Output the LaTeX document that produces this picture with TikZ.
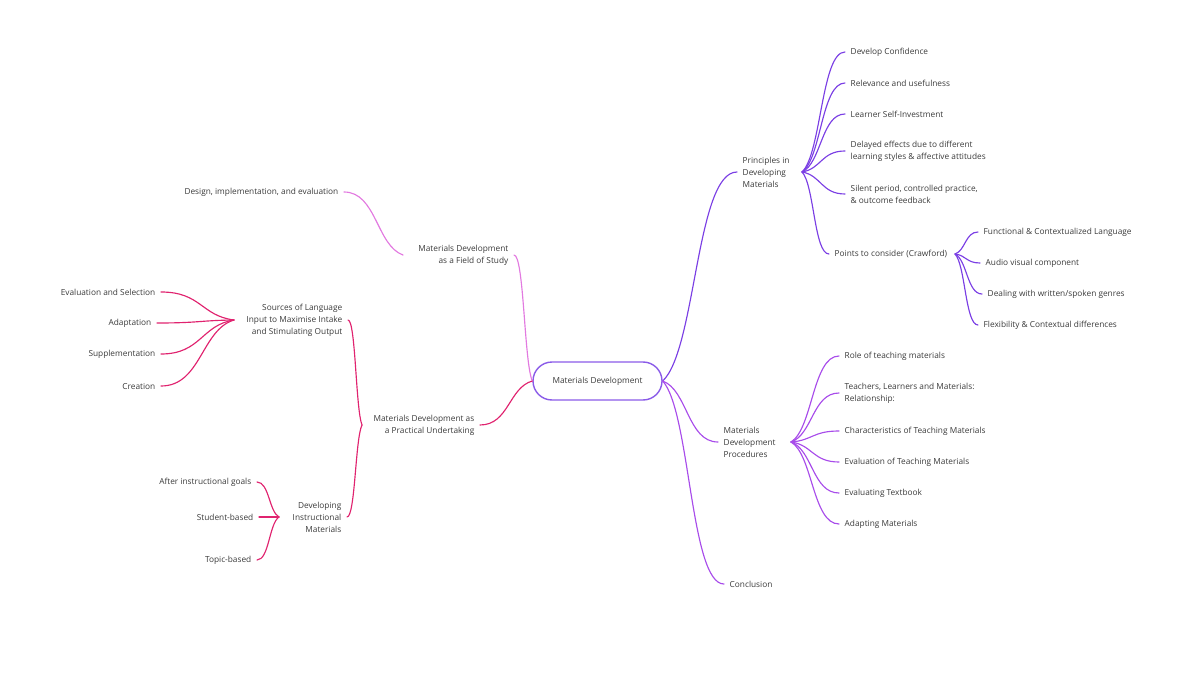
\documentclass[tikz,border=0pt]{standalone}
\usepackage{fontspec}
\setmainfont{Open Sans}
\usetikzlibrary{calc}
\definecolor{cviolet}{HTML}{7B3FE4}
\definecolor{cpurple}{HTML}{A84CEA}
\definecolor{corchid}{HTML}{E27AE0}
\definecolor{ccrimson}{HTML}{E0236F}
\definecolor{ccenter}{HTML}{8A5BE8}
\definecolor{ctext}{HTML}{3A3A3A}
\newcommand\mmlink[3]{\draw[link,#1] let \p1=#2, \p2=#3 in (\p1) .. controls ({\x1+0.45*(\x2-\x1)},{\y1+0.15*(\y2-\y1)}) and ({\x1+0.45*(\x2-\x1)},{\y2}) .. (\p2);}
\begin{document}
\begin{tikzpicture}[x=1pt,y=-1pt,
  lbl/.style={font=\fontsize{8.3}{12}\selectfont, text=ctext, inner xsep=5.5pt, inner ysep=1pt},
  lft/.style={lbl, anchor=west, align=left},
  rgt/.style={lbl, anchor=east, align=right},
  link/.style={line width=1.15pt, line cap=round},
  centerbox/.style={draw=ccenter, line width=1.4pt, rounded corners=19pt, minimum width=129pt, minimum height=38pt, inner sep=0pt, font=\fontsize{8.3}{12}\selectfont, text=ctext}]
\useasboundingbox (0,0) rectangle (1200,674);
% center
\node[centerbox] (c) at (597.5,381) {Materials Development};
% right: principles
\node[lft] (pdm) at (737,172) {Principles in\\Developing\\Materials};
\coordinate (pdmh) at (802,172);
\node[lft] (dc) at (845,52) {Develop Confidence};
\node[lft] (ru) at (845,83) {Relevance and usefulness};
\node[lft] (lsi) at (845,114) {Learner Self-Investment};
\node[lft] (de) at (845,151) {Delayed effects due to different\\learning styles \& affective attitudes};
\node[lft] (sp) at (845,194) {Silent period, controlled practice,\\\& outcome feedback};
\node[lft] (pc) at (829,254) {Points to consider (Crawford)};
\coordinate (pch) at (955,254);
\node[lft] (fcl) at (978,232) {Functional \& Contextualized Language};
\node[lft] (avc) at (980,263) {Audio visual component};
\node[lft] (dws) at (982,294) {Dealing with written/spoken genres};
\node[lft] (fcd) at (978,325) {Flexibility \& Contextual differences};
% right: procedures
\node[lft] (mdp) at (718,442) {Materials\\Development\\Procedures};
\coordinate (mdph) at (791,442);
\node[lft] (rtm) at (839,356) {Role of teaching materials};
\node[lft] (tlm) at (839,393) {Teachers, Learners and Materials:\\Relationship:};
\node[lft] (ctm) at (839,431) {Characteristics of Teaching Materials};
\node[lft] (etm) at (839,462) {Evaluation of Teaching Materials};
\node[lft] (etb) at (839,493) {Evaluating Textbook};
\node[lft] (am) at (839,524) {Adapting Materials};
\node[lft] (con) at (724,584) {Conclusion};
% left: field of study
\node[rgt] (fs) at (514,255) {Materials Development\\as a Field of Study};
\coordinate (fsh) at (403,255);
\node[rgt] (die) at (344,192) {Design, implementation, and evaluation};
% left: practical undertaking
\node[rgt] (pu) at (480,425) {Materials Development as\\a Practical Undertaking};
\coordinate (puh) at (362,425);
\node[rgt] (sli) at (348,320) {Sources of Language\\Input to Maximise Intake\\and Stimulating Output};
\coordinate (slih) at (234,320);
\node[rgt] (es) at (161,292) {Evaluation and Selection};
\node[rgt] (ad) at (157,323) {Adaptation};
\node[rgt] (su) at (161,354) {Supplementation};
\node[rgt] (cr) at (161,386) {Creation};
\node[rgt] (dim) at (347,517) {Developing\\Instructional\\Materials};
\coordinate (dimh) at (279,517);
\node[rgt] (aig) at (257,482) {After instructional goals};
\node[rgt] (sb) at (259,517) {Student-based};
\node[rgt] (tb) at (257,560) {Topic-based};
% connectors
\mmlink{cviolet}{(c.east)}{(pdm.west)}
\foreach \q in {dc,ru,lsi,de,sp,pc}{\mmlink{cviolet}{(pdmh)}{(\q.west)}}
\foreach \q in {fcl,avc,dws,fcd}{\mmlink{cviolet}{(pch)}{(\q.west)}}
\mmlink{cpurple}{(c.east)}{(mdp.west)}
\mmlink{cpurple}{(c.east)}{(con.west)}
\foreach \q in {rtm,tlm,ctm,etm,etb,am}{\mmlink{cpurple}{(mdph)}{(\q.west)}}
\mmlink{corchid}{(c.west)}{(fs.east)}
\mmlink{corchid}{(fsh)}{(die.east)}
\mmlink{ccrimson}{(c.west)}{(pu.east)}
\mmlink{ccrimson}{(puh)}{(sli.east)}
\mmlink{ccrimson}{(puh)}{(dim.east)}
\foreach \q in {es,ad,su,cr}{\mmlink{ccrimson}{(slih)}{(\q.east)}}
\foreach \q in {aig,sb,tb}{\mmlink{ccrimson}{(dimh)}{(\q.east)}}
\end{tikzpicture}
\end{document}
